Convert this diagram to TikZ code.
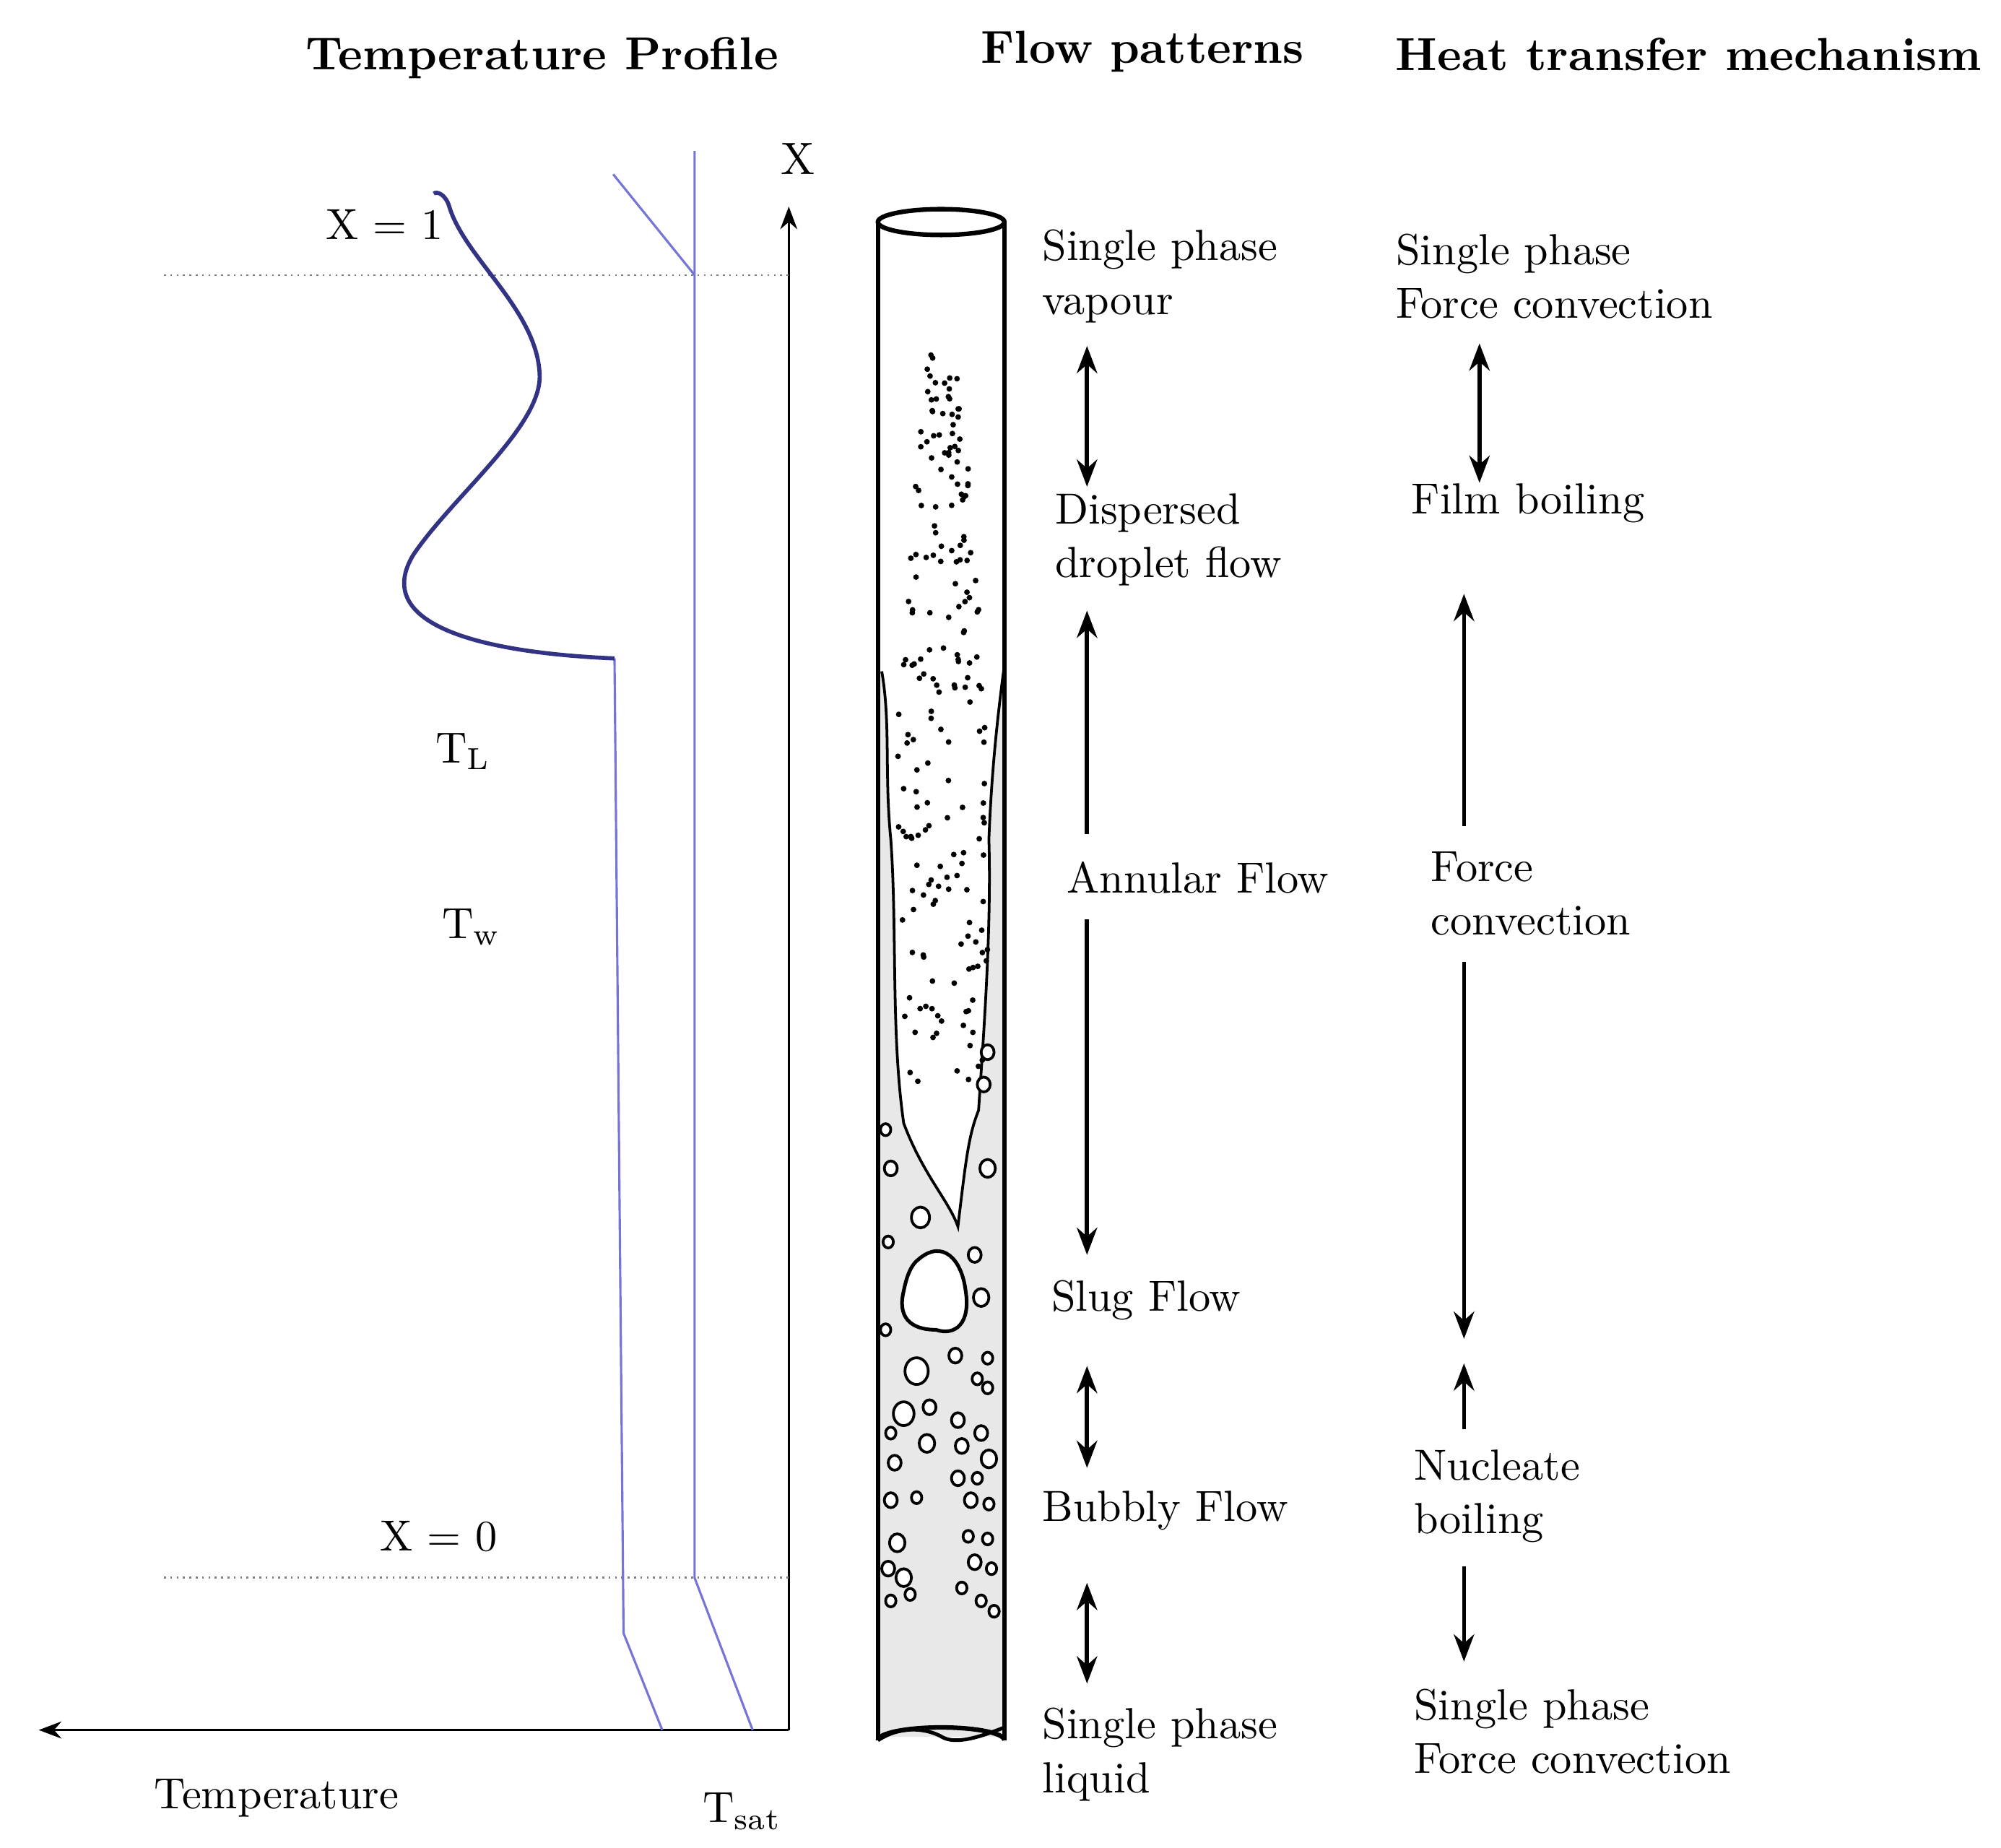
\documentclass[tikz,border=0pt]{standalone}
\usetikzlibrary{arrows.meta}
\begin{document}
\begin{tikzpicture}[x=0.1mm,y=-0.1mm,
 lbl/.style={anchor=west,font=\fontsize{9.6}{11.8}\selectfont,align=left},
 ttl/.style={font=\bfseries\fontsize{10.2}{12}\selectfont},
 ax/.style={line width=0.5pt,-{Stealth[length=5pt]}},
 blu/.style={color=blue!55!gray!70,line width=0.5pt},
 dar/.style={-{Stealth[length=6pt]},line width=0.9pt},
 dbl/.style={{Stealth[length=6pt]}-{Stealth[length=6pt]},line width=0.9pt}]
\useasboundingbox (0,0) rectangle (1550,1431);
% titles
\node[ttl] (t1) at (420,45) {Temperature Profile};
\node[ttl] (t2) at (885,40) {Flow patterns};
\node[ttl] (t3) at (1308,42) {Heat transfer mechanism};
% axes
\coordinate (o) at (611,1340);
\coordinate (xt) at (611,160);
\coordinate (tl) at (30,1340);
\draw[ax] (o) -- (xt);
\draw[ax] (o) -- (tl);
\node (X) at (618,123) {X};
\draw[densely dotted,gray] (127,213) -- (611,213);
\draw[densely dotted,gray] (127,1222) -- (611,1222);
% Tsat and TL lines
\draw[blu] (583,1340) -- (538,1222) -- (538,117);
\draw[blu] (475,135) -- (538,213);
\draw[blu] (513,1340) -- (483,1265) -- (476,510);
\draw[color=blue!40!black!80,line width=0.9pt] (476,510) .. controls (360,505) and (290,480) .. (320,430)
  .. controls (350,385) and (420,330) .. (418,290) .. controls (416,240) and (360,200) .. (348,160) .. controls (345,150) and (338,148) .. (336,150);
\node[lbl] at (240,174) {X = 1};
\node[lbl] at (282,1190) {X = 0};
\node[lbl] at (325,582) {T\textsubscript{L}};
\node[lbl] at (330,718) {T\textsubscript{w}};
\node[lbl] at (107,1393) {Temperature};
\node[lbl] at (532,1403) {T\textsubscript{sat}};
% tube
\fill[gray!18] (680,520) rectangle (778,1345);
\fill[white,draw=black,line width=0.6pt] (683,520) .. controls (690,560) and (685,600) .. (690,650) .. controls (695,720) and (690,800) .. (700,870) .. controls (715,910) and (735,930) .. (742,950) .. controls (748,900) and (750,880) .. (758,860) .. controls (762,800) and (768,720) .. (766,650) .. controls (768,600) and (772,560) .. (778,515);
\draw[line width=1pt] (680,172) -- (680,1348);
\draw[line width=1pt] (778,172) -- (778,1348);
\draw[line width=1pt] (729,172) ellipse (49 and 10);
\draw[line width=1pt] (680,1348) arc (180:360:49 and 10);
\draw[line width=0.8pt] (680,1348) .. controls (700,1335) and (720,1340) .. (729,1345) .. controls (740,1352) and (760,1345) .. (778,1338);
% droplets
\pgfmathsetseed{7}
\foreach \i in {1,...,200}{
  \pgfmathsetmacro{\yy}{275+rnd*570}
  \pgfmathsetmacro{\ww}{ifthenelse(\yy<520,12+(\yy-275)*0.09,35)}
  \pgfmathsetmacro{\xx}{730+(rnd-0.5)*2*\ww}
  \fill (\xx,\yy) circle (2.2);}
% bubbles
\foreach \x/\y/\r in {690/905/5,713/943/7,688/962/4,755/972/5,760/1005/6,686/1030/4,710/1062/9,740/1050/5,765/1052/4,757/1068/4,700/1095/8,720/1090/5,742/1100/5,690/1110/4,760/1110/5,745/1120/5,718/1118/6,693/1133/5,766/1130/6,742/1145/5,757/1145/4,690/1162/5,710/1160/4,752/1162/5,766/1165/4,695/1195/6,750/1190/4,765/1192/4,688/1215/5,700/1222/6,755/1210/5,768/1215/4,745/1230/4,690/1240/4,760/1240/4,705/1235/4,770/1248/4,765/1075/4,765/815/5,762/840/5,765/905/6,686/875/4}
  \draw[line width=0.6pt,fill=white] (\x,\y) ellipse ({\r} and {\r*1.15});
\draw[line width=0.8pt,fill=white] (712,975) .. controls (730,960) and (745,975) .. (748,1000) .. controls (752,1025) and (740,1035) .. (725,1030) .. controls (705,1030) and (695,1020) .. (700,1000) .. controls (702,990) and (705,980) .. (712,975);
% flow labels
\node[lbl] (fa) at (795,214) {Single phase\\vapour};
\node[lbl] (fb) at (805,418) {Dispersed\\droplet flow};
\node[lbl] (fc) at (814,680) {Annular Flow};
\node[lbl] (fd) at (802,1007) {Slug Flow};
\node[lbl] (fe) at (795,1170) {Bubbly Flow};
\node[lbl] (ff) at (795,1359) {Single phase\\liquid};
\coordinate (a1) at (842,268); \coordinate (a2) at (842,377);
\coordinate (a3) at (842,473); \coordinate (a4) at (842,646);
\coordinate (a5) at (842,712); \coordinate (a6) at (842,972);
\coordinate (a7) at (842,1058); \coordinate (a8) at (842,1137);
\coordinate (a9) at (842,1226); \coordinate (a10) at (842,1304);
\draw[dbl] (a1) -- (a2);
\draw[dar] (a4) -- (a3);
\draw[dar] (a5) -- (a6);
\draw[dbl] (a7) -- (a8);
\draw[dbl] (a9) -- (a10);
% heat transfer labels
\node[lbl] (ha) at (1069,214) {Single phase\\Force convection};
\node[lbl] (hb) at (1081,390) {Film boiling};
\node[lbl] (hc) at (1096,692) {Force\\convection};
\node[lbl] (hd) at (1083,1159) {Nucleate\\boiling};
\node[lbl] (he) at (1083,1341) {Single phase\\Force convection};
\coordinate (b1) at (1146,266); \coordinate (b2) at (1146,374);
\coordinate (b3) at (1134,460); \coordinate (b4) at (1134,640);
\coordinate (b5) at (1134,745); \coordinate (b6) at (1134,1037);
\coordinate (b7) at (1134,1056); \coordinate (b8) at (1134,1107);
\coordinate (b9) at (1134,1213); \coordinate (b10) at (1134,1287);
\draw[dbl] (b1) -- (b2);
\draw[dar] (b4) -- (b3);
\draw[dar] (b5) -- (b6);
\draw[dar] (b8) -- (b7);
\draw[dar] (b9) -- (b10);
\end{tikzpicture}
\end{document}
